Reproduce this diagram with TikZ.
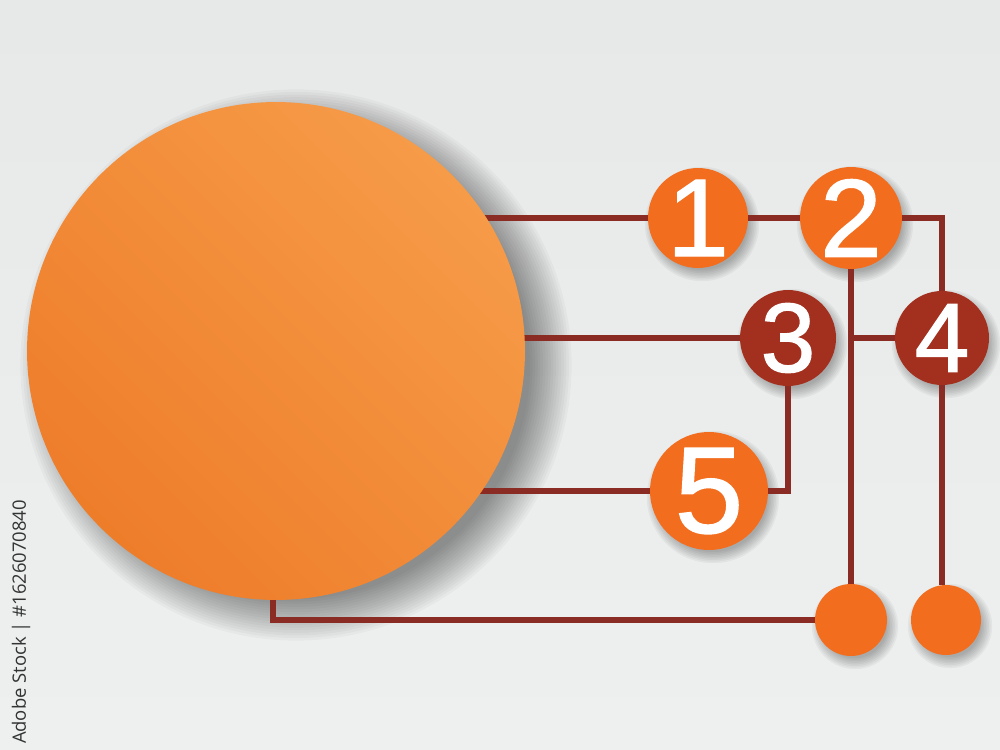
\documentclass[tikz,border=0pt]{standalone}
\usepackage{fontspec}
\newfontfamily\digitfont[FakeBold=1.2]{Liberation Sans}
\newfontfamily\labelfont{Open Sans}
\definecolor{bgtop}{HTML}{E7E8E8}
\definecolor{bgbot}{HTML}{EEEFEF}
\definecolor{bigtop}{HTML}{F69B48}
\definecolor{bigbot}{HTML}{EE7D2A}
\definecolor{orng}{HTML}{F36D1F}
\definecolor{dred}{HTML}{A3301F}
\definecolor{wirec}{HTML}{8A2B24}
\definecolor{labelc}{HTML}{333333}
\pgfdeclarelayer{bg}
\pgfdeclarelayer{shadow}
\pgfdeclarelayer{wires}
\pgfsetlayers{bg,shadow,wires,main}
\tikzset{
  dot/.style={circle, inner sep=0pt, minimum size=#1*0.04cm, text=white},
  odot/.style={dot=#1, fill=orng},
  rdot/.style={dot=#1, fill=dred},
  bigdot/.style={circle, inner sep=0pt, minimum size=9.96cm,
    top color=bigtop, bottom color=bigbot, shading angle=-45},
  wire/.style={draw=wirec, line width=3pt},
  numA/.style={font=\digitfont\fontsize{63}{63}\selectfont},
  numB/.style={font=\digitfont\fontsize{56}{56}\selectfont},
  numC/.style={font=\digitfont\fontsize{70}{70}\selectfont},
}
\newcommand\softshadow[2]{%
  \begin{pgfonlayer}{shadow}
    \foreach \k in {0,...,7}
      \fill[black, opacity=0.04] ([shift={(4,6)}]#1.center) circle[radius=#2-4+\k*1.6];
  \end{pgfonlayer}}
\begin{document}
\begin{tikzpicture}[x=0.02cm, y=-0.02cm]
\useasboundingbox (0,0) rectangle (1000,750);
\begin{pgfonlayer}{bg}
  \shade[top color=bgtop, bottom color=bgbot] (0,0) rectangle (1000,750);
\end{pgfonlayer}

% nodes
\node[bigdot] (big) at (276,351) {};
\node[odot=50, numA] (c1) at (698,218) {1};
\node[odot=51, numA] (c2) at (851,218) {2};
\node[rdot=48, numB] (c3) at (788,338) {3};
\node[rdot=47, numB] (c4) at (942,338) {4};
\node[odot=59, numC] (c5) at (709,491) {5};
\node[odot=36] (sa) at (851,620) {};
\node[odot=35] (sb) at (946,620) {};
\coordinate (bl) at (273,590);

\node[rotate=90, text=labelc, font=\labelfont\fontsize{10.5}{10.5}\selectfont] (lab) at (21,622) {Adobe Stock | \#1626070840};

% shadows
\begin{pgfonlayer}{shadow}
  \foreach \k in {0,...,16}
    \fill[black, opacity=0.028] ([shift={(20,14)}]big.center) circle[radius=234+\k*2.6];
\end{pgfonlayer}
\softshadow{c1}{50}
\softshadow{c2}{51}
\softshadow{c3}{48}
\softshadow{c4}{47}
\softshadow{c5}{59}
\softshadow{sa}{36}
\softshadow{sb}{35}

% connectors
\begin{pgfonlayer}{wires}
  \draw[wire] (big.center |- c1.center) -- (c1) -- (c2);
  \draw[wire] (c2.east) -| (c4.north);
  \draw[wire] (big.center |- c3.center) -- (c3.west);
  \draw[wire] (c3.south) |- (c5.east);
  \draw[wire] (big.center |- c5.center) -- (c5.west);
  \draw[wire] (c2.south) -- (sa.north);
  \draw[wire] (c2.center |- c4.center) -- (c4.west);
  \draw[wire] (c4.south) -- (c4.south |- sb.north);
  \draw[wire] (bl) |- (sa.west);
\end{pgfonlayer}
\end{tikzpicture}
\end{document}
